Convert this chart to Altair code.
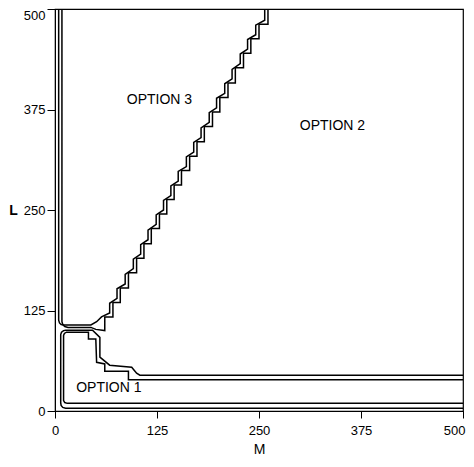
import altair as alt
import pandas as pd

# Axis ticks
TICKS = [0, 125, 250, 375, 500]

# Option 3 boundary, outer (left/upper) trace
opt3_outer_M = [4.5, 4.5, 5.5, 7.5, 11, 44, 51, 57, 67, 67, 76, 76, 86, 86, 96, 96, 105, 105,
                114, 114, 124, 124, 133, 133, 142, 142, 151, 151, 161, 161, 170, 170, 179, 179,
                189, 189, 198, 198, 208, 208, 217, 217, 227, 227, 236, 236, 246, 246, 257, 257]
opt3_outer_L = [500, 113, 109.5, 107.5, 107, 107, 111, 117, 122, 134, 140, 152, 158, 170, 177, 189,
                195, 207, 213, 225, 232, 244, 250, 262, 268, 280, 286, 298, 304, 316, 322, 334,
                340, 352, 359, 371, 377, 389, 395, 407, 413, 425, 432, 444, 450, 462, 468, 480,
                486, 500]

# Option 3 boundary, inner (right/lower) trace
opt3_inner_M = [8.5, 8.5, 9.5, 12, 16, 44, 50, 61, 61, 71, 71, 80, 80, 90, 90, 100, 100, 109, 109,
                118, 118, 128, 128, 137, 137, 146, 146, 155, 155, 165, 165, 174, 174, 183, 183,
                193, 193, 202, 202, 212, 212, 221, 221, 231, 231, 240, 240, 250, 250, 261, 261]
opt3_inner_L = [500, 111, 107.5, 105, 104, 104, 101.5, 100, 117, 117, 135, 135, 153, 153, 172, 172,
                190, 190, 208, 208, 227, 227, 245, 245, 263, 263, 281, 281, 299, 299, 317, 317,
                335, 335, 354, 354, 372, 372, 390, 390, 408, 408, 427, 427, 445, 445, 463, 463,
                481, 481, 500]

# Option 1 boundary, outer trace
opt1_outer_M = [500, 13, 9.5, 7.5, 7, 7, 8, 10.5, 13, 46, 55, 55, 67, 94, 100, 104, 500]
opt1_outer_L = [3.5, 3.5, 4.5, 7, 10, 95, 98, 100, 100.5, 100.5, 91.5, 67, 57, 54.5, 47, 44.5, 44.5]

# Option 1 boundary, inner trace
opt1_inner_M = [500, 15, 12, 10.5, 10.5, 11.5, 14, 41, 41, 50, 51, 61, 61, 90, 90, 500]
opt1_inner_L = [9.5, 9.5, 10.5, 13, 94, 96.5, 98, 98, 89.5, 89.5, 60.5, 58.5, 49.5, 49.5, 39, 39]

# Region labels
label_text = ["OPTION 3", "OPTION 2", "OPTION 1"]
label_M = [128, 340, 66]
label_L = [387, 354, 28]

rows = []
for name, ms, ls in [("o3a", opt3_outer_M, opt3_outer_L),
                     ("o3b", opt3_inner_M, opt3_inner_L),
                     ("o1a", opt1_outer_M, opt1_outer_L),
                     ("o1b", opt1_inner_M, opt1_inner_L)]:
    for i, (m, l) in enumerate(zip(ms, ls)):
        rows.append({"line": name, "order": i, "M": m, "L": l})
df = pd.DataFrame(rows)
labels = pd.DataFrame({"label": label_text, "M": label_M, "L": label_L})

FONT = "Liberation Sans"
xscale = alt.Scale(domain=[0, 500], nice=False, zero=False)
yscale = alt.Scale(domain=[0, 500], nice=False, zero=False)

xaxis = alt.Axis(values=TICKS, title="M", grid=False, tickSize=7, labelPadding=6,
                 labelFlush=False, labelOverlap=False, labelFontSize=13, labelFont=FONT,
                 labelAlign={"condition": {"test": "datum.value == 500", "value": "right"},
                             "value": "center"},
                 labelOffset={"condition": {"test": "datum.value == 500", "value": 2},
                              "value": 0},
                 labelColor="black", domainColor="black", tickColor="black",
                 titleFont=FONT, titleFontSize=14, titleFontWeight="normal", titleColor="black",
                 titleBaseline="middle", titleY=38)
yaxis = alt.Axis(values=TICKS, title="L", grid=False, tickSize=8, labelPadding=2,
                 labelOverlap=False, labelFontSize=13, labelFont=FONT,
                 labelColor="black", domainColor="black", tickColor="black",
                 labelBaseline={"condition": {"test": "datum.value == 500", "value": "top"},
                                "value": "middle"},
                 titleFont=FONT, titleFontSize=14, titleFontWeight="bold", titleColor="black",
                 titleAngle=0, titleX=-42, titleY=201, titleAlign="center",
                 titleBaseline="middle")

lines = alt.Chart(df).mark_line(color="black", strokeWidth=1.5, clip=True).encode(
    x=alt.X("M:Q", scale=xscale, axis=xaxis),
    y=alt.Y("L:Q", scale=yscale, axis=yaxis),
    detail="line:N",
    order="order:Q",
)

text = alt.Chart(labels).mark_text(font=FONT, fontSize=14, color="black").encode(
    x=alt.X("M:Q", scale=xscale),
    y=alt.Y("L:Q", scale=yscale),
    text="label:N",
)

chart = alt.layer(lines, text).properties(
    width=408, height=402,
    autosize=alt.AutoSizeParams(type="none"),
    padding={"left": 47, "top": 1, "right": 3, "bottom": 46},
).configure_view(stroke="black", strokeWidth=1.2)

chart.save("out.html", embed_options={"renderer": "svg", "actions": False})
